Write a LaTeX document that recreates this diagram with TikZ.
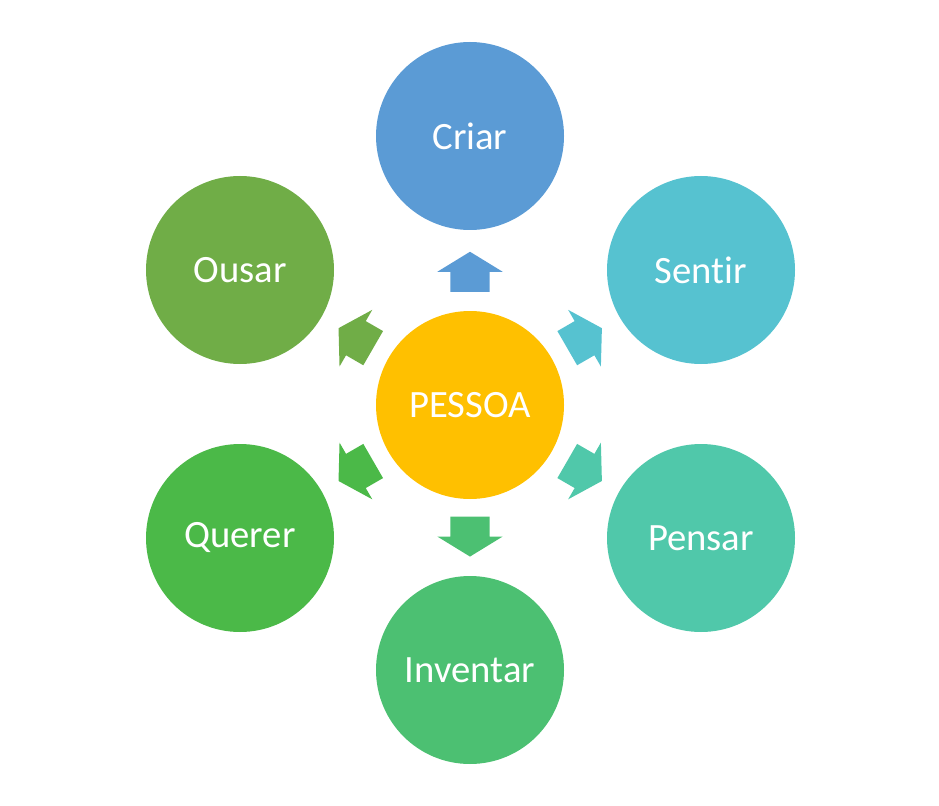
\documentclass[tikz,border=0pt]{standalone}
\usepackage{fontspec}
\setmainfont{Carlito}[Ligatures=NoCommon]
\usetikzlibrary{shapes.arrows,calc}
\definecolor{pessoayellow}{HTML}{FFC000}
\definecolor{criarblue}{HTML}{5B9BD5}
\definecolor{sentircyan}{HTML}{56C2D0}
\definecolor{pensarteal}{HTML}{50C8AA}
\definecolor{inventargreen}{HTML}{4CC072}
\definecolor{querergreen}{HTML}{4BB948}
\definecolor{ousargreen}{HTML}{70AD47}
\begin{document}
\begin{tikzpicture}[x=0.75pt,y=-0.75pt,
    bubble/.style={circle,minimum size=141pt,inner sep=0pt,text=white,
      font=\fontsize{29}{35}\selectfont},
    blockarrow/.style={single arrow,draw=none,minimum height=30pt,minimum width=49pt,
      single arrow head extend=9.75pt,single arrow tip angle=117,
      inner xsep=0pt,inner ysep=14.6pt,anchor=tail}]
  \useasboundingbox (0,0) rectangle (939,806);
  % centre
  \node[bubble,fill=pessoayellow] (pessoa) at (470,405) {PESSOA};
  % outer ring
  \node[bubble,fill=criarblue] (criar) at (470,136) {Criar};
  \node[bubble,fill=sentircyan] (sentir) at (701,270) {Sentir};
  \node[bubble,fill=pensarteal] (pensar) at (701,538) {Pensar};
  \node[bubble,fill=inventargreen] (inventar) at (470,670) {Inventar};
  \node[bubble,fill=querergreen] (querer) at (240,538) {Querer};
  \node[bubble,fill=ousargreen] (ousar) at (240,270) {Ousar};
  % arrows
  \foreach \n/\c/\a in {criar/criarblue/90,sentir/sentircyan/30,pensar/pensarteal/-30,
      inventar/inventargreen/-90,querer/querergreen/-150,ousar/ousargreen/150}
    \node[blockarrow,fill=\c,rotate=\a] (arr\n) at ($(pessoa)!0.42!(\n)$) {};
\end{tikzpicture}
\end{document}
